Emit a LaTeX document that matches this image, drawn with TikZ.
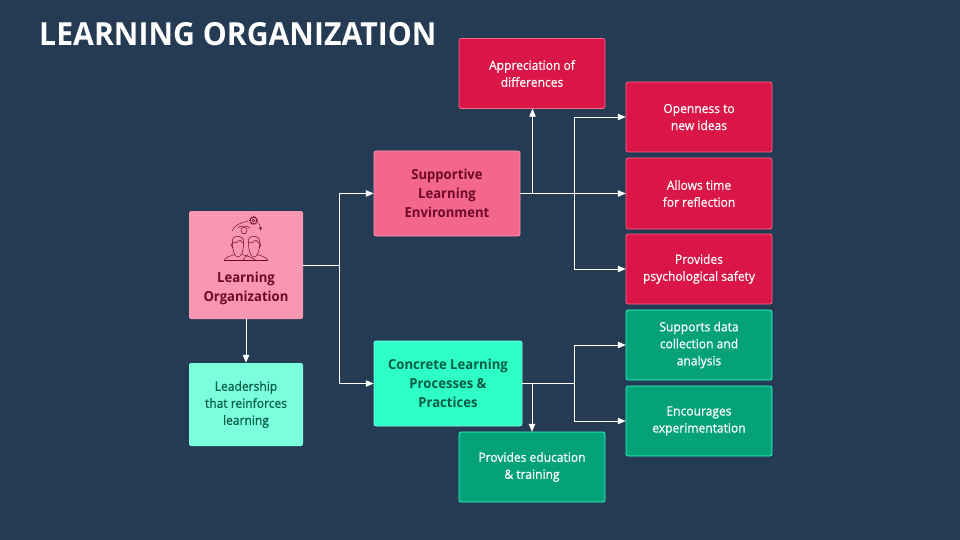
\documentclass[tikz,border=0pt]{standalone}
\usepackage{fontspec}
\setmainfont[FakeStretch=0.95]{Open Sans}
\newfontfamily\semifont[FakeBold=0.5, FakeStretch=0.95]{Open Sans}
\usetikzlibrary{arrows}

\definecolor{slatebg}{HTML}{253B53}
\definecolor{rosebox}{HTML}{F897B1}
\definecolor{rosemid}{HTML}{F4678C}
\definecolor{roseedge}{HTML}{F4678C}
\definecolor{crimson}{HTML}{D91645}
\definecolor{wine}{HTML}{6E0A28}
\definecolor{mint}{HTML}{7BFFDD}
\definecolor{aqua}{HTML}{2EFFC7}
\definecolor{teal}{HTML}{05A27A}
\definecolor{pine}{HTML}{075C47}

\tikzset{
    box/.style={rectangle, rounded corners=2pt, line width=0.7pt, align=center, inner sep=0pt, minimum width=146pt},
    smalltext/.style={font=\semifont\fontsize{12.7}{17}\selectfont},
    bigtext/.style={font=\bfseries\fontsize{13.8}{19}\selectfont},
    redbox/.style={box, smalltext, fill=crimson, draw=roseedge, text=white},
    greenbox/.style={box, smalltext, fill=teal, draw=aqua, text=white},
    link/.style={white, line width=0.8pt, -triangle 45},
    trunk/.style={white, line width=0.8pt}
}

\begin{document}
\begin{tikzpicture}[x=1pt, y=-1pt]

    \fill[slatebg] (0, 0) rectangle (960, 540);
    \node[anchor=west, inner sep=0pt, white, font=\bfseries\fontsize{31.8}{36}\selectfont] (title) at (39, 34) {LEARNING ORGANIZATION};

    % Root
    \node[box, fill=rosebox, minimum width=114pt, minimum height=108pt] (root) at (246, 265) {};
    \node[bigtext, text=wine, align=center] (rootlabel) at (246, 288.5) {Learning\\Organization};
    \node[box, smalltext, fill=mint, text=pine, minimum width=114pt, minimum height=83pt] (leader) at (246, 404.5) {Leadership\\that reinforces\\learning};

    % Icon
    \begin{scope}[wine, line width=0.5pt]
        \draw (224, 260.5) -- (268, 260.5);
        \draw (224, 260.5) .. controls (226, 256.5) and (231, 256) .. (235, 254.5);
        \draw (242, 254.5) .. controls (246, 256) and (252, 257) .. (256, 260.5);
        \draw (268, 260.5) .. controls (266, 256.5) and (261, 256) .. (257, 254.5);
        \draw (248, 254.5) .. controls (246, 256) and (244, 258) .. (243, 260.5);
        % heads
        \draw (232.5, 243) .. controls (232.5, 250) and (234, 257) .. (238, 257) .. controls (242, 257) and (243.5, 250) .. (243.5, 243) .. controls (244.5, 238) and (241, 236.5) .. (238, 236.5) .. controls (234, 236.5) and (231.5, 238) .. (232.5, 243);
        \draw (248.5, 243) .. controls (248.5, 250) and (250, 257) .. (254, 257) .. controls (258, 257) and (259.5, 250) .. (259.5, 243) .. controls (260.5, 238) and (257, 236.5) .. (254, 236.5) .. controls (250, 236.5) and (247.5, 238) .. (248.5, 243);
        \draw (232.5, 243) .. controls (236, 243) and (238, 242) .. (240, 240) .. controls (241, 241.5) and (242.5, 243) .. (243.5, 243);
        \draw (248.5, 243) .. controls (252, 243) and (254, 242) .. (256, 240) .. controls (257, 241.5) and (258.5, 243) .. (259.5, 243);
        \draw (232.5, 243) -- (231, 245) -- (233, 248);
        \draw (259.5, 243) -- (261, 245) -- (259, 248);
        % bulb and arcs
        \draw (232, 231) .. controls (234, 226) and (240, 222) .. (248, 221.5);
        \draw (238, 228) .. controls (238, 225.5) and (248, 225.5) .. (250, 228);
        \draw (241, 231) .. controls (239.5, 226) and (248.5, 226) .. (247, 231) -- (245.5, 233.5) -- (242.5, 233.5) -- cycle;
        \draw[-stealth] (258.5, 223) .. controls (260, 225) and (260.5, 227) .. (260.5, 230.5);
        \draw (253.5, 220.5) circle (3.2);
        \draw (253.5, 220.5) circle (1.2);
        \draw[line width=1pt, densely dotted] (253.5, 220.5) circle (4);
    \end{scope}

    % Supportive environment
    \node[box, bigtext, fill=rosemid, draw=rosebox, text=wine, minimum height=85pt] (support) at (447, 193.5) {Supportive\\Learning\\Environment};
    \node[redbox, minimum height=70pt] (apprec) at (532, 73.5) {Appreciation of\\differences};
    \node[redbox, minimum height=70pt] (open) at (699, 117) {Openness to\\new ideas};
    \node[redbox, minimum height=71pt] (time) at (699, 193.5) {Allows time\\for reflection};
    \node[redbox, minimum height=70pt] (safety) at (699, 269) {Provides\\psychological safety};

    % Concrete processes
    \node[box, bigtext, fill=aqua, draw=mint, text=pine, minimum width=148pt, minimum height=85pt] (concrete) at (448, 383.5) {Concrete Learning\\Processes \&\\Practices};
    \node[greenbox, minimum height=70pt] (data) at (699, 345) {Supports data\\collection and\\analysis};
    \node[greenbox, minimum height=70pt] (experiment) at (699, 421) {Encourages\\experimentation};
    \node[greenbox, minimum height=70pt] (training) at (532, 467) {Provides education\\\& training};

    % Connectors
    \coordinate (rootfork) at (339, 265.5);
    \coordinate (supfork) at (574, 193.5);
    \coordinate (supup) at (532.5, 193.5);
    \coordinate (confork) at (574, 383.5);
    \coordinate (condown) at (532, 383.5);

    \draw[trunk] (root.east |- rootfork) -- (rootfork);
    \draw[link] (rootfork) |- (support.west);
    \draw[link] (rootfork) |- (concrete.west);
    \draw[link] (root.south) -- (leader.north);

    \draw[link] (support.east) -- (time.west);
    \draw[link] (supup) -- (supup |- apprec.south);
    \draw[link] (supfork) |- (open.west);
    \draw[link] (supfork) |- (safety.west);

    \draw[trunk] (concrete.east) -- (confork);
    \draw[link] (condown) -- (condown |- training.north);
    \draw[link] (confork) |- (data.west);
    \draw[link] (confork) |- (experiment.west);

\end{tikzpicture}
\end{document}
